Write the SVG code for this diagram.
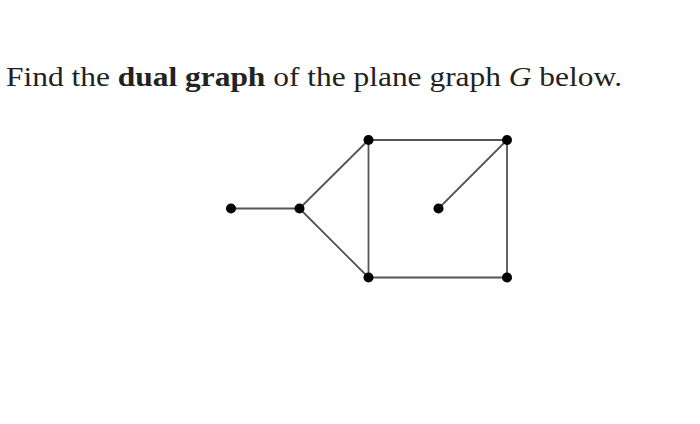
<svg xmlns="http://www.w3.org/2000/svg" width="700" height="424" viewBox="0 0 700 424">
<style>
.t{font-family:"Liberation Serif","DejaVu Serif",serif;font-size:27px;fill:#222}
.e{stroke:#555;stroke-width:1.8;fill:none}
.n{fill:#000}
</style>
<rect width="700" height="424" fill="#fff"/>
<text class="t" x="6" y="85.5" textLength="616" lengthAdjust="spacingAndGlyphs">Find the <tspan font-weight="bold">dual graph</tspan> of the plane graph <tspan font-style="italic">G</tspan> below.</text>
<g id="edges">
<line class="e" x1="231" y1="208.5" x2="299.5" y2="208.5"/>
<line class="e" x1="299.5" y1="208.5" x2="368.5" y2="140"/>
<line class="e" x1="299.5" y1="208.5" x2="368.5" y2="277.5"/>
<line class="e" x1="368.5" y1="140" x2="368.5" y2="277.5"/>
<line class="e" x1="368.5" y1="140" x2="507" y2="140"/>
<line class="e" x1="368.5" y1="277.5" x2="507" y2="277.5"/>
<line class="e" x1="507" y1="140" x2="507" y2="277.5"/>
<line class="e" x1="507" y1="140" x2="438.5" y2="208.5"/>
</g>
<g id="v1"><circle class="n" cx="231" cy="208.5" r="5"/></g>
<g id="v2"><circle class="n" cx="299.5" cy="208.5" r="5"/></g>
<g id="v3"><circle class="n" cx="368.5" cy="140" r="5"/></g>
<g id="v4"><circle class="n" cx="507" cy="140" r="5"/></g>
<g id="v5"><circle class="n" cx="438.5" cy="208.5" r="5"/></g>
<g id="v6"><circle class="n" cx="368.5" cy="277.5" r="5"/></g>
<g id="v7"><circle class="n" cx="507" cy="277.5" r="5"/></g>
</svg>
